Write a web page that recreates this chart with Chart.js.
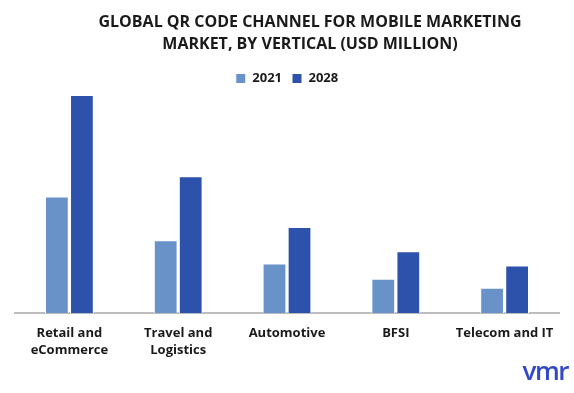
<!DOCTYPE html>
<html>
<head>
<meta charset="utf-8">
<script src="https://cdn.jsdelivr.net/npm/chart.js@4/dist/chart.umd.min.js"></script>
<style>
  html, body { margin: 0; padding: 0; background: #fff; }
  #wrap { position: relative; width: 574px; height: 393px; }
  #logo {
    position: absolute; right: 6px; bottom: 5px;
    font-family: "Open Sans", sans-serif; font-weight: 600;
    font-size: 26px; color: #3347c9; letter-spacing: -1.5px;
  }
</style>
</head>
<body>
<div id="wrap">
  <canvas id="chart" width="574" height="393"></canvas>
  <div id="logo">vmr</div>
</div>
<script>
// Categorias e valores (USD milhões aprox.)
const categorias = [['Retail and', 'eCommerce'], ['Travel and', 'Logistics'], 'Automotive', 'BFSI', 'Telecom and IT'];
const valores2021 = [115, 72, 49, 34, 25];
const valores2028 = [215, 135, 85, 61, 47];
const tituloLinhas = ['GLOBAL QR CODE CHANNEL FOR MOBILE MARKETING', 'MARKET, BY VERTICAL (USD MILLION)'];

// Título desenhado à mão (no original ele fica um pouco à direita do centro)
const tituloPlugin = {
    id: 'tituloPlugin',
    afterDraw(chart) {
        const c = chart.ctx;
        c.save();
        c.fillStyle = '#1a1a1a';
        c.font = 'bold 16px "Open Sans"';
        c.textAlign = 'center';
        c.textBaseline = 'middle';
        c.fillText(tituloLinhas[0], 310, 22);
        c.fillText(tituloLinhas[1], 310, 44);
        c.restore();
    }
};

const ctx = document.getElementById('chart').getContext('2d');
new Chart(ctx, {
    type: 'bar',
    data: {
        labels: categorias,
        datasets: [{
            label: '2021',
            data: valores2021,
            backgroundColor: '#6892c8',
            borderColor: '#ffffff',
            borderWidth: 1
        }, {
            label: '2028',
            data: valores2028,
            backgroundColor: '#2d52ab',
            borderColor: '#ffffff',
            borderWidth: 1
        }]
    },
    options: {
        responsive: false,
        animation: false,
        layout: {
            padding: { left: 15, right: 15, top: 62, bottom: 30 }
        },
        datasets: {
            bar: {
                categoryPercentage: 0.46,
                barPercentage: 0.95
            }
        },
        plugins: {
            title: { display: false },
            legend: {
                labels: {
                    boxWidth: 10,
                    boxHeight: 10,
                    color: '#1a1a1a',
                    font: { family: 'Open Sans', size: 13, weight: 'bold' },
                    padding: 10
                }
            },
            tooltip: { enabled: false }
        },
        scales: {
            x: {
                grid: { display: false },
                border: { color: '#bdbdbd', width: 2 },
                ticks: {
                    color: '#1a1a1a',
                    font: { family: 'Open Sans', size: 13, weight: 'bold', lineHeight: 1.3 },
                    padding: 4,
                    maxRotation: 0
                }
            },
            y: {
                display: false,
                min: 0,
                max: 215
            }
        }
    },
    plugins: [tituloPlugin]
});
</script>
</body>
</html>
